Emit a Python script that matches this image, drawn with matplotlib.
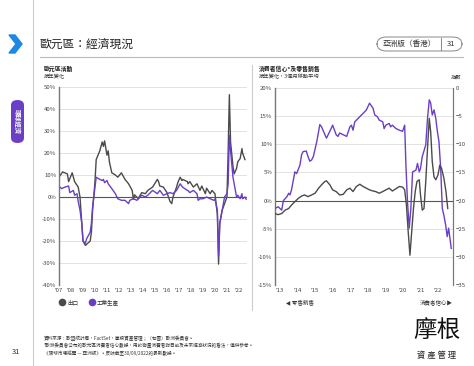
import matplotlib
matplotlib.use("Agg")
import matplotlib.pyplot as plt
from matplotlib.patches import FancyBboxPatch, Polygon

plt.rcParams['font.family'] = ['Noto Sans CJK TC', 'DejaVu Sans']

# --- Données : graphique de gauche (歐元區活動, % a/a) ---
exp_x = [2007.0, 2007.3, 2007.7, 2007.8, 2008.1, 2008.3, 2008.6, 2008.75, 2008.9, 2009.0,
         2009.2, 2009.4, 2009.6, 2009.7, 2009.8, 2010.0, 2010.1, 2010.4, 2010.6, 2010.7,
         2010.8, 2011.0, 2011.1, 2011.2, 2011.4, 2011.7, 2011.9, 2012.2, 2012.5, 2012.8,
         2013.1, 2013.2, 2013.3, 2013.6, 2013.9, 2014.2, 2014.4, 2014.8, 2015.2, 2015.3,
         2015.4, 2015.7, 2016.0, 2016.25, 2016.4, 2016.5, 2016.8, 2016.9, 2017.1, 2017.25,
         2017.3, 2017.7, 2017.75, 2017.9, 2018.2, 2018.5, 2018.75, 2018.9, 2019.2, 2019.3,
         2019.6, 2019.75, 2020.0, 2020.2, 2020.3, 2020.4, 2020.6, 2020.7, 2020.8, 2021.0,
         2021.1, 2021.2, 2021.3, 2021.5, 2021.6, 2021.8, 2021.9, 2022.1, 2022.25, 2022.3,
         2022.5]
exp_y = [9, 11.4, 10.5, 7, 11, 7, 4.5, 0, -12, -20,
         -22, -21, -20, -16, -6, 7, 17, 21, 25, 23,
         25.5, 19, 21, 16, 11, 10, 9, 11, 8, 6,
         3, -1, 1, -0.7, 2, 1.5, 3, 4.5, 8, 7,
         5, 4.5, 2, -2, -3, 0, 4.5, 6.5, 9, 7.5,
         8, 7, 6, 7, 4.5, 6, 3, 5, 1.5, 4,
         1.5, 3, 1.5, -8, -30.5, -12, -6, -4.5, -3, 0,
         21, 46.5, 25, 14, 10.5, 13, 16, 17.5, 22, 20,
         17]

ip_x = [2007.0, 2007.2, 2007.5, 2007.8, 2007.9, 2008.2, 2008.3, 2008.5, 2008.6, 2008.75,
        2008.9, 2009.0, 2009.2, 2009.3, 2009.4, 2009.6, 2009.7, 2009.8, 2010.0, 2010.1,
        2010.4, 2010.6, 2010.7, 2010.8, 2011.0, 2011.1, 2011.4, 2011.7, 2011.9, 2012.2,
        2012.5, 2012.8, 2012.9, 2013.2, 2013.5, 2013.9, 2014.2, 2014.4, 2014.8, 2015.2,
        2015.4, 2015.7, 2016.0, 2016.25, 2016.5, 2016.8, 2017.1, 2017.3, 2017.7, 2017.75,
        2017.9, 2018.2, 2018.5, 2018.6, 2018.75, 2019.0, 2019.3, 2019.6, 2019.9, 2020.0,
        2020.2, 2020.3, 2020.4, 2020.6, 2020.7, 2020.8, 2021.0, 2021.1, 2021.2, 2021.3,
        2021.5, 2021.7, 2021.8, 2021.9, 2022.1, 2022.25, 2022.3, 2022.5, 2022.6]
ip_y = [5, 3.8, 4.5, 5, 2, 3, 0.8, 1.5, -2, -6,
        -12, -20, -21, -19, -18, -16, -12, -4.5, 4.5, 9,
        8, 7.5, 8, 6.5, 7.5, 6, 3.8, 1.5, -0.8, -1.5,
        -1.5, -3, -1.5, -0.8, -1.5, 0.8, 0, 0.8, 3, 1.5,
        3, 0.8, 1.5, 2, 1.5, 3, 6, 4.5, 3, 3,
        2, 3, 1.5, -1.5, -0.8, -0.8, 0, -0.8, -1.5, -1,
        -6, -27, -12, -6, -3, 0, 1.5, 6, 28, 21,
        9, 3, 0, 0.8, -0.8, 1.5, -0.8, 0, -1]

# --- Données : graphique de droite (零售銷售 % / 消費者信心 指數) ---
ret_x = [2012.72, 2012.9, 2013.1, 2013.2, 2013.4, 2013.5, 2013.57, 2013.66, 2013.75, 2013.85,
         2013.95, 2014.14, 2014.23, 2014.32, 2014.5, 2014.6, 2014.7, 2014.8, 2014.9, 2015.1,
         2015.27, 2015.37, 2015.56, 2015.65, 2015.84, 2016.0, 2016.2, 2016.3, 2016.4, 2016.6,
         2016.8, 2016.98, 2017.07, 2017.16, 2017.26, 2017.45, 2017.64, 2017.83, 2017.92, 2018.1,
         2018.3, 2018.4, 2018.55, 2018.65, 2018.85, 2018.93, 2019.03, 2019.22, 2019.3, 2019.4,
         2019.6, 2019.8, 2019.98, 2020.1, 2020.17, 2020.26, 2020.36, 2020.45, 2020.55, 2020.74,
         2020.83, 2020.93, 2021.0, 2021.1, 2021.3, 2021.4, 2021.5, 2021.58, 2021.67, 2021.77,
         2021.87, 2021.96, 2022.05, 2022.15, 2022.24, 2022.33, 2022.43, 2022.52, 2022.6, 2022.75]
ret_y = [-1.4, -1.1, -1.7, 0, 0.7, 1.3, 1, 1.9, 3.4, 5.1,
         4.8, 6.3, 8.1, 8.7, 8.8, 7.8, 7, 7.2, 7.8, 10.5,
         13.5, 13.1, 11.7, 11.1, 12.3, 13.4, 11.7, 11.4, 12, 11.7,
         11.4, 13.1, 13.4, 12.5, 14, 14.6, 15.2, 15.8, 16.1, 17.3,
         16.4, 15.2, 14.9, 14.3, 14, 12.8, 13.4, 13.7, 13.1, 13.4,
         12.8, 12.5, 12.3, 13.4, 6.3, -0.2, -4.9, -1.5, 5.1, 5.4,
         6.6, 5.1, 5.7, 7.8, 9.9, 14.6, 17.9, 17.3, 15.2, 16.1,
         14.6, 12.3, 10.5, 5.7, -1.4, -2.6, -4.3, -6.4, -4.9, -8.5]

conf_x = [2012.72, 2012.9, 2013.1, 2013.3, 2013.5, 2013.66, 2013.85, 2014.05, 2014.23, 2014.4,
          2014.6, 2014.8, 2015.0, 2015.2, 2015.37, 2015.56, 2015.65, 2015.84, 2016.0, 2016.2,
          2016.4, 2016.6, 2016.8, 2016.98, 2017.16, 2017.35, 2017.55, 2017.73, 2017.92, 2018.1,
          2018.3, 2018.45, 2018.65, 2018.85, 2019.03, 2019.22, 2019.4, 2019.6, 2019.8, 2019.98,
          2020.1, 2020.2, 2020.3, 2020.4, 2020.5, 2020.6, 2020.7, 2020.8, 2020.93, 2021.0,
          2021.1, 2021.2, 2021.3, 2021.4, 2021.5, 2021.58, 2021.67, 2021.77, 2021.87, 2021.99,
          2022.1, 2022.2, 2022.33, 2022.45, 2022.55]
conf_y = [-22.3, -22.5, -22.3, -21.7, -21.4, -20.8, -20.2, -19.6, -19.2, -19,
          -19.3, -19, -18.7, -17.8, -17.2, -16.6, -16.5, -17.2, -18.1, -18.4,
          -19, -18.9, -18.1, -17.8, -18.4, -17.5, -17.1, -17.5, -17.8, -18.1,
          -18.3, -18.4, -18.7, -18.4, -18.1, -17.8, -18.3, -17.9, -17.5, -17.6,
          -18.1, -20.8, -25.5, -29.7, -25.5, -21.4, -18.4, -16.6, -16.3, -19,
          -21.7, -21.4, -16.6, -10.7, -5.4, -7.8, -13.1, -15.8, -16.3, -15.5,
          -13.7, -14.3, -16, -18.4, -21.4]

ans_gauche = list(range(2007, 2023))
ans_droite = list(range(2013, 2023))

GRIS = "#4a4a4a"
VIOLET = "#6a3fc6"
W, H = 474, 366


def fx(x):
    return x / W


def fy(y):
    return 1 - y / H


def boite(x0, y0, x1, y1):
    return [fx(x0), fy(y1), fx(x1) - fx(x0), fy(y0) - fy(y1)]


def style_axe(ax):
    for s in ["top", "right", "bottom"]:
        ax.spines[s].set_visible(False)
    ax.spines["left"].set_color("#777777")
    ax.spines["left"].set_linewidth(1.0)
    ax.tick_params(axis="both", labelsize=4.3, colors="#444444", length=0, pad=2)
    ax.grid(axis="y", color="#dddddd", linewidth=0.6)
    ax.set_axisbelow(True)


def main():
    fig = plt.figure(figsize=(W / 100, H / 100), dpi=100)

    # --- Graphique gauche ---
    ax1 = fig.add_axes(boite(59, 87, 247, 285))
    style_axe(ax1)
    ax1.plot(exp_x, exp_y, color=GRIS, lw=1.0)
    ax1.plot(ip_x, ip_y, color=VIOLET, lw=1.0)
    ax1.axhline(0, color="#555555", lw=0.8)
    ax1.set_xlim(2007, 2022.67)
    ax1.set_ylim(-40, 50)
    ax1.set_yticks(range(-40, 51, 10))
    ax1.set_yticklabels([f"{v}%" for v in range(-40, 51, 10)])
    ax1.set_xticks(ans_gauche)
    ax1.set_xticklabels([f"'{a % 100:02d}" for a in ans_gauche])

    # --- Graphique droit ---
    ax2 = fig.add_axes(boite(275, 88, 453, 285))
    style_axe(ax2)
    ax2.spines["right"].set_visible(True)
    ax2.spines["right"].set_color("#777777")
    ax2.plot(ret_x, ret_y, color=VIOLET, lw=1.0, zorder=3)
    ax2.axhline(0, color="#555555", lw=0.8)
    ax2.set_xlim(2012.72, 2022.85)
    ax2.set_ylim(-15, 20)
    ax2.set_yticks(range(-15, 21, 5))
    ax2.set_yticklabels([f"{v}%" for v in range(-15, 21, 5)])
    ax2.set_xticks(ans_droite)
    ax2.set_xticklabels([f"'{a % 100:02d}" for a in ans_droite])
    ax3 = ax2.twinx()
    ax3.plot(conf_x, conf_y, color=GRIS, lw=1.0)
    ax3.set_ylim(-35, 0)
    ax3.set_yticks(range(-35, 1, 5))
    for s in ["top", "left", "bottom"]:
        ax3.spines[s].set_visible(False)
    ax3.spines["right"].set_color("#777777")
    ax3.tick_params(axis="y", labelsize=4.3, colors="#444444", length=0, pad=2)

    # --- En-tête ---
    chevron = Polygon([(fx(9), fy(35)), (fx(15), fy(35)), (fx(22), fy(44)),
                       (fx(15), fy(53)), (fx(9), fy(53)), (fx(16), fy(44))],
                      closed=True, color="#1e88e5", transform=fig.transFigure)
    fig.patches.append(chevron)
    fig.add_artist(plt.Line2D([fx(33), fx(33)], [0, 1], color="#cccccc", lw=0.8))
    fig.text(fx(40), fy(44), "歐元區：經濟現況", fontsize=8.5, va="center", color="#222222")
    fig.add_artist(plt.Line2D([fx(40), fx(463)], [fy(57), fy(57)], color="#bbbbbb", lw=0.8))
    cadre = FancyBboxPatch((fx(377), fy(51)), fx(85), fy(37) - fy(51),
                           boxstyle="round,pad=0,rounding_size=0.02",
                           fc="white", ec="#888888", lw=0.7, transform=fig.transFigure)
    fig.patches.append(cadre)
    fig.add_artist(plt.Line2D([fx(441), fx(441)], [fy(38), fy(50)], color="#888888", lw=0.7))
    fig.text(fx(409), fy(44), "亞洲版（香港）", fontsize=5.5, ha="center", va="center", color="#333333")
    fig.text(fx(451), fy(44), "31", fontsize=5.5, ha="center", va="center", color="#333333")
    fig.add_artist(plt.Line2D([fx(252), fx(252)], [fy(65), fy(310)], color="#cccccc", lw=0.8))

    # --- Barre latérale ---
    onglet = FancyBboxPatch((fx(11), fy(143)), fx(13), fy(100) - fy(143),
                            boxstyle="round,pad=0,rounding_size=0.014",
                            fc="#6a3fc6", ec="none", transform=fig.transFigure)
    fig.patches.append(onglet)
    fig.text(fx(17.5), fy(121.5), "環球經濟", fontsize=4.5, rotation=-90, color="white",
             ha="center", va="center", fontweight="bold")

    # --- Titres des graphiques ---
    fig.text(fx(44), fy(69), "歐元區活動", fontsize=4.2, fontweight="bold", va="center", color="#222222")
    fig.text(fx(44), fy(77), "按年變化", fontsize=3.8, va="center", color="#333333")
    fig.text(fx(259), fy(69), "消費者信心*及零售銷售", fontsize=4.2, fontweight="bold", va="center", color="#222222")
    fig.text(fx(259), fy(77), "按年變化，3個月移動平均", fontsize=3.8, va="center", color="#333333")
    fig.text(fx(461), fy(77), "指數", fontsize=3.8, va="center", ha="right", color="#333333")

    # --- Légendes ---
    fig.add_artist(plt.Line2D([fx(62)], [fy(302)], marker="o", ms=4.5, color=GRIS, lw=0))
    fig.text(fx(67), fy(302), "出口", fontsize=4, va="center", color="#333333")
    fig.add_artist(plt.Line2D([fx(92)], [fy(302)], marker="o", ms=4.5, color=VIOLET, lw=0))
    fig.text(fx(97), fy(302), "工業生產", fontsize=4, va="center", color="#333333")
    fig.text(fx(286), fy(302), "◀ 零售銷售", fontsize=4, va="center", color="#333333",
             family=["DejaVu Sans", "Noto Sans CJK TC"])
    fig.text(fx(453), fy(302), "消費者信心▶", fontsize=4, va="center", ha="right", color="#333333",
             family=["Noto Sans CJK TC", "DejaVu Sans"])

    # --- Notes ---
    notes = ("資料來源：歐盟統計局，FactSet，摩根資產管理；（右圖）歐洲委員會。\n"
             "*歐洲委員會公布的歐元區消費者信心數據，用於衡量消費者對目前及未來經濟狀況的看法，僅供參考。\n"
             "《環球市場縱覽 — 亞洲版》。反映截至30/09/2022的最新數據。")
    fig.text(fx(44), fy(346), notes, fontsize=3.3, va="center", color="#333333", linespacing=1.4)
    fig.text(fx(16), fy(352), "31", fontsize=5.5, ha="center", va="center", color="#333333")

    # --- Logo ---
    fig.text(fx(437), fy(330), "摩根", fontsize=17, ha="center", va="center", color="#111111")
    fig.text(fx(437), fy(355), "資 產 管 理", fontsize=6, ha="center", va="center", color="#222222")

    fig.savefig("out.png", dpi=100)


if __name__ == "__main__":
    main()
